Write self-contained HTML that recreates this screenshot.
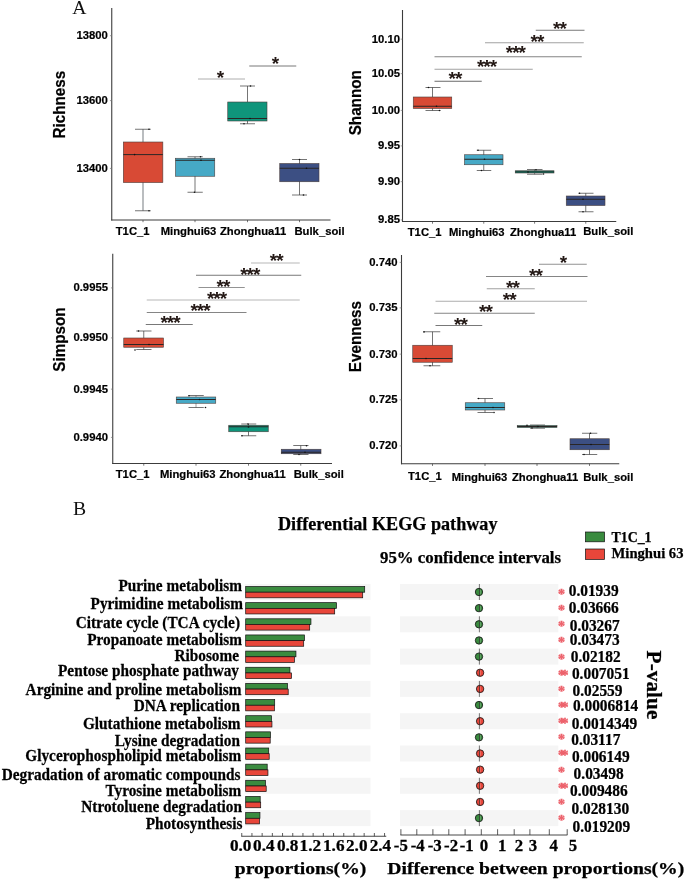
<!DOCTYPE html>
<html lang="en"><head><meta charset="utf-8"><title>Figure</title>
<style>
html,body{margin:0;padding:0;background:#fff;}
body{width:685px;height:879px;overflow:hidden;}
svg{display:block;}
.sb{font-family:"Liberation Sans",sans-serif;font-weight:bold;fill:#000;stroke:#000;stroke-width:0.2px;}
.tb{font-family:"Liberation Serif",serif;font-weight:bold;fill:#000;stroke:#000;stroke-width:0.25px;}
.tr{font-family:"Liberation Serif",serif;fill:#111;}
.st{font-family:"Liberation Sans",sans-serif;font-weight:bold;fill:#231815;}
.rs{font-family:"Liberation Serif",serif;font-weight:bold;fill:#EC5F69;stroke:#EC5F69;stroke-width:0.4px;}
</style></head><body>
<svg width="685" height="879" viewBox="0 0 685 879">
<rect width="685" height="879" fill="#fff"/>
<line x1="111.75" y1="8" x2="111.75" y2="220.5" stroke="#3c3c3c" stroke-width="1.1"/>
<line x1="111.25" y1="220" x2="330.5" y2="220" stroke="#3c3c3c" stroke-width="1.1"/>
<text class="sb" x="107.8" y="39.25" font-size="11.3" text-anchor="end">13800</text>
<line x1="109.95" y1="35.7" x2="111.75" y2="35.7" stroke="#777" stroke-width="0.7"/>
<text class="sb" x="107.8" y="104.15" font-size="11.3" text-anchor="end">13600</text>
<line x1="109.95" y1="100.6" x2="111.75" y2="100.6" stroke="#777" stroke-width="0.7"/>
<text class="sb" x="107.8" y="171.95" font-size="11.3" text-anchor="end">13400</text>
<line x1="109.95" y1="168.4" x2="111.75" y2="168.4" stroke="#777" stroke-width="0.7"/>
<line x1="143" y1="220" x2="143" y2="222.2" stroke="#3c3c3c" stroke-width="0.7"/>
<line x1="195" y1="220" x2="195" y2="222.2" stroke="#3c3c3c" stroke-width="0.7"/>
<line x1="247.5" y1="220" x2="247.5" y2="222.2" stroke="#3c3c3c" stroke-width="0.7"/>
<line x1="299.5" y1="220" x2="299.5" y2="222.2" stroke="#3c3c3c" stroke-width="0.7"/>
<text class="sb" x="115.75" y="235" font-size="11.25">T1C_1</text>
<text class="sb" x="160.75" y="235" font-size="11.25">Minghui63</text>
<text class="sb" x="220" y="235" font-size="11.25">Zhonghua11</text>
<text class="sb" x="294.5" y="235" font-size="11.25">Bulk_soil</text>
<text class="sb" font-size="16.2" text-anchor="middle" transform="translate(65,104.6) rotate(-90) scale(0.94,1)">Richness</text>
<line x1="143" y1="129.25" x2="143" y2="210.75" stroke="#a9adb0" stroke-width="1.6"/>
<line x1="135" y1="129.25" x2="150.75" y2="129.25" stroke="#3a3a3a" stroke-width="0.7"/>
<line x1="135" y1="210.75" x2="150.75" y2="210.75" stroke="#3a3a3a" stroke-width="0.7"/>
<rect x="123.3" y="142" width="39.55" height="40.55" fill="#D84A35" stroke="#4a3f3c" stroke-width="0.6"/>
<line x1="123.3" y1="154.6" x2="162.85" y2="154.6" stroke="#2a2625" stroke-width="1"/>
<circle cx="134.6" cy="154.6" r="0.8" fill="#111"/>
<circle cx="149" cy="129.25" r="0.8" fill="#111"/>
<circle cx="149" cy="210.75" r="0.8" fill="#111"/>
<line x1="195" y1="156.75" x2="195" y2="192.25" stroke="#3a3a3a" stroke-width="0.7"/>
<line x1="187.5" y1="156.75" x2="202.75" y2="156.75" stroke="#3a3a3a" stroke-width="0.7"/>
<line x1="187.5" y1="192.25" x2="202.75" y2="192.25" stroke="#3a3a3a" stroke-width="0.7"/>
<rect x="175.5" y="158.25" width="39.25" height="18" fill="#46A9C6" stroke="#4a3f3c" stroke-width="0.6"/>
<line x1="175.5" y1="160.25" x2="214.75" y2="160.25" stroke="#2a2625" stroke-width="1"/>
<circle cx="200.5" cy="156.75" r="0.8" fill="#111"/>
<circle cx="201" cy="160.3" r="0.8" fill="#111"/>
<circle cx="194.5" cy="192.25" r="0.8" fill="#111"/>
<line x1="247.5" y1="86" x2="247.5" y2="123.75" stroke="#3a3a3a" stroke-width="0.7"/>
<line x1="240" y1="86" x2="255" y2="86" stroke="#3a3a3a" stroke-width="0.7"/>
<line x1="240" y1="123.75" x2="255" y2="123.75" stroke="#3a3a3a" stroke-width="0.7"/>
<rect x="227.75" y="102" width="39.25" height="19" fill="#0F957B" stroke="#4a3f3c" stroke-width="0.6"/>
<line x1="227.75" y1="118.5" x2="267" y2="118.5" stroke="#2a2625" stroke-width="1"/>
<circle cx="250.5" cy="86" r="0.8" fill="#111"/>
<circle cx="250" cy="118.5" r="0.8" fill="#111"/>
<circle cx="244" cy="123.75" r="0.8" fill="#111"/>
<line x1="299.5" y1="159.5" x2="299.5" y2="195" stroke="#3a3a3a" stroke-width="0.7"/>
<line x1="292" y1="159.5" x2="307" y2="159.5" stroke="#3a3a3a" stroke-width="0.7"/>
<line x1="292" y1="195" x2="307" y2="195" stroke="#3a3a3a" stroke-width="0.7"/>
<rect x="279.75" y="163.5" width="39.25" height="18.25" fill="#3C4F83" stroke="#4a3f3c" stroke-width="0.6"/>
<line x1="279.75" y1="168.25" x2="319" y2="168.25" stroke="#2a2625" stroke-width="1"/>
<circle cx="299.5" cy="159.5" r="0.8" fill="#111"/>
<circle cx="306.5" cy="168.3" r="0.8" fill="#111"/>
<circle cx="303.5" cy="195" r="0.8" fill="#111"/>
<line x1="198" y1="79" x2="245" y2="79" stroke="#9a9a9a" stroke-width="0.8"/>
<text class="st" x="220" y="84.3" font-size="19" text-anchor="middle" letter-spacing="-1.0">*</text>
<line x1="249.25" y1="66" x2="296.25" y2="66" stroke="#555" stroke-width="0.8"/>
<text class="st" x="275" y="70.3" font-size="19" text-anchor="middle" letter-spacing="-1.0">*</text>
<line x1="402.5" y1="10" x2="402.5" y2="222" stroke="#3c3c3c" stroke-width="1.1"/>
<line x1="402" y1="221.5" x2="616.25" y2="221.5" stroke="#3c3c3c" stroke-width="1.1"/>
<text class="sb" x="400" y="42.7" font-size="11.3" text-anchor="end">10.10</text>
<line x1="400.7" y1="39.15" x2="402.5" y2="39.15" stroke="#777" stroke-width="0.7"/>
<text class="sb" x="400" y="77.2" font-size="11.3" text-anchor="end">10.05</text>
<line x1="400.7" y1="73.65" x2="402.5" y2="73.65" stroke="#777" stroke-width="0.7"/>
<text class="sb" x="400" y="113.95" font-size="11.3" text-anchor="end">10.00</text>
<line x1="400.7" y1="110.4" x2="402.5" y2="110.4" stroke="#777" stroke-width="0.7"/>
<text class="sb" x="400" y="149.45" font-size="11.3" text-anchor="end">9.95</text>
<line x1="400.7" y1="145.9" x2="402.5" y2="145.9" stroke="#777" stroke-width="0.7"/>
<text class="sb" x="400" y="185.2" font-size="11.3" text-anchor="end">9.90</text>
<line x1="400.7" y1="181.65" x2="402.5" y2="181.65" stroke="#777" stroke-width="0.7"/>
<text class="sb" x="400" y="223.45" font-size="11.3" text-anchor="end">9.85</text>
<line x1="400.7" y1="219.9" x2="402.5" y2="219.9" stroke="#777" stroke-width="0.7"/>
<line x1="432.5" y1="221.5" x2="432.5" y2="223.7" stroke="#3c3c3c" stroke-width="0.7"/>
<line x1="483.75" y1="221.5" x2="483.75" y2="223.7" stroke="#3c3c3c" stroke-width="0.7"/>
<line x1="534.6" y1="221.5" x2="534.6" y2="223.7" stroke="#3c3c3c" stroke-width="0.7"/>
<line x1="585.75" y1="221.5" x2="585.75" y2="223.7" stroke="#3c3c3c" stroke-width="0.7"/>
<text class="sb" x="407.75" y="236.25" font-size="11.25">T1C_1</text>
<text class="sb" x="449" y="236.25" font-size="11.25">Minghui63</text>
<text class="sb" x="510" y="236.25" font-size="11.25">Zhonghua11</text>
<text class="sb" x="583.25" y="235" font-size="11.25">Bulk_soil</text>
<text class="sb" font-size="16.2" text-anchor="middle" transform="translate(361.25,102.75) rotate(-90) scale(0.94,1)">Shannon</text>
<line x1="432.5" y1="87.5" x2="432.5" y2="110.5" stroke="#3a3a3a" stroke-width="0.7"/>
<line x1="425.5" y1="87.5" x2="440.5" y2="87.5" stroke="#3a3a3a" stroke-width="0.7"/>
<line x1="425.5" y1="110.5" x2="440.5" y2="110.5" stroke="#3a3a3a" stroke-width="0.7"/>
<rect x="413.25" y="97" width="38.5" height="11.5" fill="#D84A35" stroke="#4a3f3c" stroke-width="0.6"/>
<line x1="413.25" y1="106.25" x2="451.75" y2="106.25" stroke="#2a2625" stroke-width="1"/>
<circle cx="428.5" cy="87.5" r="0.8" fill="#111"/>
<circle cx="436.5" cy="106.3" r="0.8" fill="#111"/>
<circle cx="439.5" cy="110.5" r="0.8" fill="#111"/>
<line x1="483.75" y1="150.25" x2="483.75" y2="170.5" stroke="#3a3a3a" stroke-width="0.7"/>
<line x1="476.75" y1="150.25" x2="491.25" y2="150.25" stroke="#3a3a3a" stroke-width="0.7"/>
<line x1="476.75" y1="170.5" x2="491.25" y2="170.5" stroke="#3a3a3a" stroke-width="0.7"/>
<rect x="464.5" y="154.75" width="38.5" height="10" fill="#46A9C6" stroke="#4a3f3c" stroke-width="0.6"/>
<line x1="464.5" y1="159.25" x2="503" y2="159.25" stroke="#2a2625" stroke-width="1"/>
<circle cx="478" cy="150.25" r="0.8" fill="#111"/>
<circle cx="484.5" cy="159.3" r="0.8" fill="#111"/>
<circle cx="481.5" cy="170.5" r="0.8" fill="#111"/>
<line x1="534.6" y1="169.5" x2="534.6" y2="174.25" stroke="#3a3a3a" stroke-width="0.6"/>
<line x1="527" y1="169.5" x2="542.5" y2="169.5" stroke="#3a3a3a" stroke-width="0.7"/>
<line x1="527" y1="174.25" x2="542.5" y2="174.25" stroke="#3a3a3a" stroke-width="0.7"/>
<rect x="515.25" y="170.75" width="38.75" height="2.25" fill="#0F957B" stroke="#4a3f3c" stroke-width="0.6"/>
<line x1="515.25" y1="171.9" x2="554" y2="171.9" stroke="#2a2625" stroke-width="1"/>
<circle cx="536" cy="169.8" r="0.8" fill="#111"/>
<circle cx="528" cy="172" r="0.8" fill="#111"/>
<circle cx="543.5" cy="174" r="0.8" fill="#111"/>
<line x1="585.75" y1="193.25" x2="585.75" y2="211.75" stroke="#3a3a3a" stroke-width="0.7"/>
<line x1="578.5" y1="193.25" x2="593.5" y2="193.25" stroke="#3a3a3a" stroke-width="0.7"/>
<line x1="578.5" y1="211.75" x2="593.5" y2="211.75" stroke="#3a3a3a" stroke-width="0.7"/>
<rect x="566.25" y="196" width="38.75" height="9.5" fill="#3C4F83" stroke="#4a3f3c" stroke-width="0.6"/>
<line x1="566.25" y1="199.25" x2="605" y2="199.25" stroke="#2a2625" stroke-width="1"/>
<circle cx="579.5" cy="193.25" r="0.8" fill="#111"/>
<circle cx="583" cy="199.3" r="0.8" fill="#111"/>
<circle cx="583" cy="211.75" r="0.8" fill="#111"/>
<line x1="434.5" y1="81.25" x2="481.75" y2="81.25" stroke="#444" stroke-width="0.8"/>
<text class="st" x="455" y="85.3" font-size="19" text-anchor="middle" letter-spacing="-1.0">**</text>
<line x1="434.5" y1="69.25" x2="532.75" y2="69.25" stroke="#8a8a8a" stroke-width="0.8"/>
<text class="st" x="486.5" y="72.7" font-size="19" text-anchor="middle" letter-spacing="-1.0">***</text>
<line x1="434.5" y1="56.75" x2="581.75" y2="56.75" stroke="#666" stroke-width="0.8"/>
<text class="st" x="515.4" y="59" font-size="19" text-anchor="middle" letter-spacing="-1.0">***</text>
<line x1="485" y1="42.75" x2="583.75" y2="42.75" stroke="#8a8a8a" stroke-width="0.8"/>
<text class="st" x="537" y="48.05" font-size="19" text-anchor="middle" letter-spacing="-1.0">**</text>
<line x1="535.75" y1="30.25" x2="584.5" y2="30.25" stroke="#555" stroke-width="0.8"/>
<text class="st" x="559.5" y="35.05" font-size="19" text-anchor="middle" letter-spacing="-1.0">**</text>
<line x1="112.75" y1="253.75" x2="112.75" y2="464" stroke="#3c3c3c" stroke-width="1.1"/>
<line x1="112.25" y1="463.5" x2="332" y2="463.5" stroke="#3c3c3c" stroke-width="1.1"/>
<text class="sb" x="108" y="291.45" font-size="11.3" text-anchor="end">0.9955</text>
<line x1="110.95" y1="287.9" x2="112.75" y2="287.9" stroke="#777" stroke-width="0.7"/>
<text class="sb" x="108" y="341.45" font-size="11.3" text-anchor="end">0.9950</text>
<line x1="110.95" y1="337.9" x2="112.75" y2="337.9" stroke="#777" stroke-width="0.7"/>
<text class="sb" x="108" y="392.7" font-size="11.3" text-anchor="end">0.9945</text>
<line x1="110.95" y1="389.15" x2="112.75" y2="389.15" stroke="#777" stroke-width="0.7"/>
<text class="sb" x="108" y="440.95" font-size="11.3" text-anchor="end">0.9940</text>
<line x1="110.95" y1="437.4" x2="112.75" y2="437.4" stroke="#777" stroke-width="0.7"/>
<line x1="143.75" y1="463.5" x2="143.75" y2="465.7" stroke="#3c3c3c" stroke-width="0.7"/>
<line x1="196" y1="463.5" x2="196" y2="465.7" stroke="#3c3c3c" stroke-width="0.7"/>
<line x1="248.5" y1="463.5" x2="248.5" y2="465.7" stroke="#3c3c3c" stroke-width="0.7"/>
<line x1="300.75" y1="463.5" x2="300.75" y2="465.7" stroke="#3c3c3c" stroke-width="0.7"/>
<text class="sb" x="115.75" y="478.25" font-size="11.25">T1C_1</text>
<text class="sb" x="160" y="478.25" font-size="11.25">Minghui63</text>
<text class="sb" x="219.5" y="478.25" font-size="11.25">Zhonghua11</text>
<text class="sb" x="293.75" y="478.25" font-size="11.25">Bulk_soil</text>
<text class="sb" font-size="16.2" text-anchor="middle" transform="translate(64.9,339.5) rotate(-90) scale(0.94,1)">Simpson</text>
<line x1="143.75" y1="331" x2="143.75" y2="349.5" stroke="#3a3a3a" stroke-width="0.7"/>
<line x1="136.25" y1="331" x2="151.5" y2="331" stroke="#3a3a3a" stroke-width="0.7"/>
<line x1="136.25" y1="349.5" x2="151.5" y2="349.5" stroke="#3a3a3a" stroke-width="0.7"/>
<rect x="123.75" y="338" width="39.75" height="9.25" fill="#D84A35" stroke="#4a3f3c" stroke-width="0.6"/>
<line x1="123.75" y1="344.5" x2="163.5" y2="344.5" stroke="#2a2625" stroke-width="1"/>
<circle cx="138.5" cy="331" r="0.8" fill="#111"/>
<circle cx="149" cy="344.5" r="0.8" fill="#111"/>
<circle cx="135" cy="350" r="0.8" fill="#111"/>
<line x1="196" y1="395.5" x2="196" y2="407.5" stroke="#8a8a8a" stroke-width="0.8"/>
<line x1="188.5" y1="395.5" x2="203.75" y2="395.5" stroke="#3a3a3a" stroke-width="0.7"/>
<line x1="188.5" y1="407.5" x2="203.75" y2="407.5" stroke="#3a3a3a" stroke-width="0.7"/>
<rect x="176.25" y="397" width="39.5" height="6.25" fill="#46A9C6" stroke="#4a3f3c" stroke-width="0.6"/>
<line x1="176.25" y1="399.5" x2="215.75" y2="399.5" stroke="#2a2625" stroke-width="1"/>
<circle cx="189" cy="395.8" r="0.8" fill="#111"/>
<circle cx="199.5" cy="399.5" r="0.8" fill="#111"/>
<circle cx="205.5" cy="407.5" r="0.8" fill="#111"/>
<line x1="248.5" y1="424" x2="248.5" y2="435.75" stroke="#3a3a3a" stroke-width="0.7"/>
<line x1="241.25" y1="424" x2="256.25" y2="424" stroke="#3a3a3a" stroke-width="0.7"/>
<line x1="241.25" y1="435.75" x2="256.25" y2="435.75" stroke="#3a3a3a" stroke-width="0.7"/>
<rect x="228.75" y="425.25" width="39.5" height="6.5" fill="#0F957B" stroke="#4a3f3c" stroke-width="0.6"/>
<line x1="228.75" y1="426.75" x2="268.25" y2="426.75" stroke="#2a2625" stroke-width="1"/>
<circle cx="248" cy="424" r="0.8" fill="#111"/>
<circle cx="248.5" cy="427" r="0.8" fill="#111"/>
<circle cx="242" cy="435.75" r="0.8" fill="#111"/>
<line x1="300.75" y1="445.5" x2="300.75" y2="454.5" stroke="#3a3a3a" stroke-width="0.7"/>
<line x1="293.25" y1="445.5" x2="308.5" y2="445.5" stroke="#3a3a3a" stroke-width="0.7"/>
<line x1="293.25" y1="454.5" x2="308.5" y2="454.5" stroke="#3a3a3a" stroke-width="0.7"/>
<rect x="281.25" y="449.25" width="39.75" height="4.5" fill="#3C4F83" stroke="#4a3f3c" stroke-width="0.6"/>
<line x1="281.25" y1="452.25" x2="321" y2="452.25" stroke="#2a2625" stroke-width="1"/>
<circle cx="306.5" cy="445.8" r="0.8" fill="#111"/>
<circle cx="305" cy="452.3" r="0.8" fill="#111"/>
<circle cx="299" cy="454.5" r="0.8" fill="#111"/>
<line x1="145.75" y1="324.5" x2="192.75" y2="324.5" stroke="#555" stroke-width="0.8"/>
<text class="st" x="170" y="329.3" font-size="19" text-anchor="middle" letter-spacing="-1.0">***</text>
<line x1="146.75" y1="312.5" x2="246.5" y2="312.5" stroke="#666" stroke-width="0.8"/>
<text class="st" x="200" y="317.3" font-size="19" text-anchor="middle" letter-spacing="-1.0">***</text>
<line x1="146.75" y1="300" x2="299.75" y2="300" stroke="#a5a5a5" stroke-width="0.8"/>
<text class="st" x="216.5" y="305.3" font-size="19" text-anchor="middle" letter-spacing="-1.0">***</text>
<line x1="198.5" y1="287.5" x2="244.75" y2="287.5" stroke="#777" stroke-width="0.8"/>
<text class="st" x="223" y="293.05" font-size="19" text-anchor="middle" letter-spacing="-1.0">**</text>
<line x1="196" y1="275.25" x2="301.25" y2="275.25" stroke="#555" stroke-width="0.8"/>
<text class="st" x="249.75" y="280.55" font-size="19" text-anchor="middle" letter-spacing="-1.0">***</text>
<line x1="251" y1="263" x2="299.75" y2="263" stroke="#a5a5a5" stroke-width="0.8"/>
<text class="st" x="276.25" y="266.8" font-size="19" text-anchor="middle" letter-spacing="-1.0">**</text>
<line x1="401.5" y1="255" x2="401.5" y2="464.25" stroke="#3c3c3c" stroke-width="1.1"/>
<line x1="401" y1="463.75" x2="619.25" y2="463.75" stroke="#3c3c3c" stroke-width="1.1"/>
<text class="sb" x="397.5" y="265.95" font-size="11.3" text-anchor="end">0.740</text>
<line x1="399.7" y1="262.4" x2="401.5" y2="262.4" stroke="#777" stroke-width="0.7"/>
<text class="sb" x="397.5" y="311.45" font-size="11.3" text-anchor="end">0.735</text>
<line x1="399.7" y1="307.9" x2="401.5" y2="307.9" stroke="#777" stroke-width="0.7"/>
<text class="sb" x="397.5" y="357.7" font-size="11.3" text-anchor="end">0.730</text>
<line x1="399.7" y1="354.15" x2="401.5" y2="354.15" stroke="#777" stroke-width="0.7"/>
<text class="sb" x="397.5" y="403.35" font-size="11.3" text-anchor="end">0.725</text>
<line x1="399.7" y1="399.8" x2="401.5" y2="399.8" stroke="#777" stroke-width="0.7"/>
<text class="sb" x="397.5" y="449.45" font-size="11.3" text-anchor="end">0.720</text>
<line x1="399.7" y1="445.9" x2="401.5" y2="445.9" stroke="#777" stroke-width="0.7"/>
<line x1="432.5" y1="463.75" x2="432.5" y2="465.95" stroke="#3c3c3c" stroke-width="0.7"/>
<line x1="485" y1="463.75" x2="485" y2="465.95" stroke="#3c3c3c" stroke-width="0.7"/>
<line x1="537" y1="463.75" x2="537" y2="465.95" stroke="#3c3c3c" stroke-width="0.7"/>
<line x1="589.5" y1="463.75" x2="589.5" y2="465.95" stroke="#3c3c3c" stroke-width="0.7"/>
<text class="sb" x="408" y="480" font-size="11.25">T1C_1</text>
<text class="sb" x="451.75" y="480.75" font-size="11.25">Minghui63</text>
<text class="sb" x="512" y="480.5" font-size="11.25">Zhonghua11</text>
<text class="sb" x="583.25" y="480.5" font-size="11.25">Bulk_soil</text>
<text class="sb" font-size="16.2" text-anchor="middle" transform="translate(360.6,336.6) rotate(-90) scale(0.94,1)">Evenness</text>
<line x1="432.5" y1="331.75" x2="432.5" y2="365.75" stroke="#3a3a3a" stroke-width="0.7"/>
<line x1="423.5" y1="331.75" x2="440.25" y2="331.75" stroke="#3a3a3a" stroke-width="0.7"/>
<line x1="423.5" y1="365.75" x2="440.25" y2="365.75" stroke="#3a3a3a" stroke-width="0.7"/>
<rect x="412.75" y="345.25" width="39.5" height="17" fill="#D84A35" stroke="#4a3f3c" stroke-width="0.6"/>
<line x1="412.75" y1="358.5" x2="452.25" y2="358.5" stroke="#2a2625" stroke-width="1"/>
<circle cx="424" cy="331.9" r="0.8" fill="#111"/>
<circle cx="426" cy="358.5" r="0.8" fill="#111"/>
<circle cx="430" cy="365.75" r="0.8" fill="#111"/>
<line x1="485" y1="398.5" x2="485" y2="412.5" stroke="#3a3a3a" stroke-width="0.7"/>
<line x1="477.5" y1="398.5" x2="493" y2="398.5" stroke="#3a3a3a" stroke-width="0.7"/>
<line x1="477.5" y1="412.5" x2="493" y2="412.5" stroke="#3a3a3a" stroke-width="0.7"/>
<rect x="465.25" y="402.75" width="39.5" height="7.25" fill="#46A9C6" stroke="#4a3f3c" stroke-width="0.6"/>
<line x1="465.25" y1="407.5" x2="504.75" y2="407.5" stroke="#2a2625" stroke-width="1"/>
<circle cx="478.5" cy="398.5" r="0.8" fill="#111"/>
<circle cx="493" cy="407.5" r="0.8" fill="#111"/>
<circle cx="494" cy="412.5" r="0.8" fill="#111"/>
<line x1="537" y1="425" x2="537" y2="428.2" stroke="#3a3a3a" stroke-width="0.5"/>
<line x1="530" y1="425" x2="545" y2="425" stroke="#3a3a3a" stroke-width="0.7"/>
<line x1="530" y1="428.2" x2="545" y2="428.2" stroke="#3a3a3a" stroke-width="0.7"/>
<rect x="517.25" y="425.5" width="39.75" height="2" fill="#0F957B" stroke="#4a3f3c" stroke-width="0.6"/>
<line x1="517.25" y1="426.5" x2="557" y2="426.5" stroke="#2a2625" stroke-width="1"/>
<circle cx="527" cy="425.3" r="0.8" fill="#111"/>
<circle cx="532" cy="428" r="0.8" fill="#111"/>
<circle cx="538" cy="426.5" r="0.8" fill="#111"/>
<line x1="589.5" y1="433.25" x2="589.5" y2="454.5" stroke="#3a3a3a" stroke-width="0.7"/>
<line x1="582" y1="433.25" x2="597.25" y2="433.25" stroke="#3a3a3a" stroke-width="0.7"/>
<line x1="582" y1="454.5" x2="597.25" y2="454.5" stroke="#3a3a3a" stroke-width="0.7"/>
<rect x="570" y="438.75" width="39.25" height="11" fill="#3C4F83" stroke="#4a3f3c" stroke-width="0.6"/>
<line x1="570" y1="444.5" x2="609.25" y2="444.5" stroke="#2a2625" stroke-width="1"/>
<circle cx="590.5" cy="433.25" r="0.8" fill="#111"/>
<circle cx="591" cy="444.5" r="0.8" fill="#111"/>
<circle cx="584" cy="454.5" r="0.8" fill="#111"/>
<line x1="435.5" y1="325.5" x2="482.25" y2="325.5" stroke="#555" stroke-width="0.8"/>
<text class="st" x="460.5" y="330.55" font-size="19" text-anchor="middle" letter-spacing="-1.0">**</text>
<line x1="434.25" y1="313.25" x2="534.75" y2="313.25" stroke="#666" stroke-width="0.8"/>
<text class="st" x="485.5" y="318.05" font-size="19" text-anchor="middle" letter-spacing="-1.0">**</text>
<line x1="435.5" y1="301.25" x2="587" y2="301.25" stroke="#999" stroke-width="0.8"/>
<text class="st" x="509.25" y="306.3" font-size="19" text-anchor="middle" letter-spacing="-1.0">**</text>
<line x1="486.75" y1="288.75" x2="534.75" y2="288.75" stroke="#888" stroke-width="0.8"/>
<text class="st" x="512.5" y="294.3" font-size="19" text-anchor="middle" letter-spacing="-1.0">**</text>
<line x1="486" y1="276.5" x2="587.5" y2="276.5" stroke="#666" stroke-width="0.8"/>
<text class="st" x="535.5" y="281.8" font-size="19" text-anchor="middle" letter-spacing="-1.0">**</text>
<line x1="539" y1="264.25" x2="586.75" y2="264.25" stroke="#777" stroke-width="0.8"/>
<text class="st" x="563" y="269.3" font-size="19" text-anchor="middle" letter-spacing="-1.0">*</text>
<rect x="343" y="470" width="1.2" height="6" fill="#d8d8d8"/>
<text class="tr" x="72.2" y="13.6" font-size="19.7">A</text>
<text class="tr" x="73" y="514.6" font-size="19.7">B</text>
<rect x="245" y="584" width="125.5" height="16" fill="#f5f5f5"/>
<rect x="400" y="584" width="158.3" height="16" fill="#f5f5f5"/>
<rect x="245" y="616.3" width="125.5" height="16" fill="#f5f5f5"/>
<rect x="400" y="616.3" width="158.3" height="16" fill="#f5f5f5"/>
<rect x="245" y="648.6" width="125.5" height="16" fill="#f5f5f5"/>
<rect x="400" y="648.6" width="158.3" height="16" fill="#f5f5f5"/>
<rect x="245" y="680.9" width="125.5" height="16" fill="#f5f5f5"/>
<rect x="400" y="680.9" width="158.3" height="16" fill="#f5f5f5"/>
<rect x="245" y="713.2" width="125.5" height="16" fill="#f5f5f5"/>
<rect x="400" y="713.2" width="158.3" height="16" fill="#f5f5f5"/>
<rect x="245" y="745.5" width="125.5" height="16" fill="#f5f5f5"/>
<rect x="400" y="745.5" width="158.3" height="16" fill="#f5f5f5"/>
<rect x="245" y="777.8" width="125.5" height="16" fill="#f5f5f5"/>
<rect x="400" y="777.8" width="158.3" height="16" fill="#f5f5f5"/>
<rect x="245" y="810.1" width="125.5" height="16" fill="#f5f5f5"/>
<rect x="400" y="810.1" width="158.3" height="16" fill="#f5f5f5"/>
<rect x="245.7" y="586.5" width="119" height="5.7" fill="#3A8B3F" stroke="#111" stroke-width="0.7"/>
<rect x="245.7" y="592.2" width="117" height="5.6" fill="#E8463A" stroke="#111" stroke-width="0.7"/>
<rect x="245.7" y="602.65" width="90.75" height="5.7" fill="#3A8B3F" stroke="#111" stroke-width="0.7"/>
<rect x="245.7" y="608.35" width="89" height="5.6" fill="#E8463A" stroke="#111" stroke-width="0.7"/>
<rect x="245.7" y="618.8" width="65.25" height="5.7" fill="#3A8B3F" stroke="#111" stroke-width="0.7"/>
<rect x="245.7" y="624.5" width="64" height="5.6" fill="#E8463A" stroke="#111" stroke-width="0.7"/>
<rect x="245.7" y="634.95" width="58.75" height="5.7" fill="#3A8B3F" stroke="#111" stroke-width="0.7"/>
<rect x="245.7" y="640.65" width="58" height="5.6" fill="#E8463A" stroke="#111" stroke-width="0.7"/>
<rect x="245.7" y="651.1" width="50.25" height="5.7" fill="#3A8B3F" stroke="#111" stroke-width="0.7"/>
<rect x="245.7" y="656.8" width="48.75" height="5.6" fill="#E8463A" stroke="#111" stroke-width="0.7"/>
<rect x="245.7" y="667.25" width="44.25" height="5.7" fill="#3A8B3F" stroke="#111" stroke-width="0.7"/>
<rect x="245.7" y="672.95" width="45.75" height="5.6" fill="#E8463A" stroke="#111" stroke-width="0.7"/>
<rect x="245.7" y="683.4" width="41.75" height="5.7" fill="#3A8B3F" stroke="#111" stroke-width="0.7"/>
<rect x="245.7" y="689.1" width="42.5" height="5.6" fill="#E8463A" stroke="#111" stroke-width="0.7"/>
<rect x="245.7" y="699.55" width="29" height="5.7" fill="#3A8B3F" stroke="#111" stroke-width="0.7"/>
<rect x="245.7" y="705.25" width="28.75" height="5.6" fill="#E8463A" stroke="#111" stroke-width="0.7"/>
<rect x="245.7" y="715.7" width="25.75" height="5.7" fill="#3A8B3F" stroke="#111" stroke-width="0.7"/>
<rect x="245.7" y="721.4" width="26.25" height="5.6" fill="#E8463A" stroke="#111" stroke-width="0.7"/>
<rect x="245.7" y="731.85" width="24.75" height="5.7" fill="#3A8B3F" stroke="#111" stroke-width="0.7"/>
<rect x="245.7" y="737.55" width="24.5" height="5.6" fill="#E8463A" stroke="#111" stroke-width="0.7"/>
<rect x="245.7" y="748" width="23" height="5.7" fill="#3A8B3F" stroke="#111" stroke-width="0.7"/>
<rect x="245.7" y="753.7" width="23.5" height="5.6" fill="#E8463A" stroke="#111" stroke-width="0.7"/>
<rect x="245.7" y="764.15" width="21.5" height="5.7" fill="#3A8B3F" stroke="#111" stroke-width="0.7"/>
<rect x="245.7" y="769.85" width="22.25" height="5.6" fill="#E8463A" stroke="#111" stroke-width="0.7"/>
<rect x="245.7" y="780.3" width="19.75" height="5.7" fill="#3A8B3F" stroke="#111" stroke-width="0.7"/>
<rect x="245.7" y="786" width="20.5" height="5.6" fill="#E8463A" stroke="#111" stroke-width="0.7"/>
<rect x="245.7" y="796.45" width="14.5" height="5.7" fill="#3A8B3F" stroke="#111" stroke-width="0.7"/>
<rect x="245.7" y="802.15" width="15" height="5.6" fill="#E8463A" stroke="#111" stroke-width="0.7"/>
<rect x="245.7" y="812.6" width="14.25" height="5.7" fill="#3A8B3F" stroke="#111" stroke-width="0.7"/>
<rect x="245.7" y="818.3" width="13.75" height="5.6" fill="#E8463A" stroke="#111" stroke-width="0.7"/>
<text class="tb" transform="translate(242,590.75) scale(0.9387,1)" font-size="16.3" text-anchor="end">Purine metabolism</text>
<text class="tb" transform="translate(243,609.25) scale(0.9387,1)" font-size="16.3" text-anchor="end">Pyrimidine metabolism</text>
<text class="tb" transform="translate(240,627.5) scale(0.9387,1)" font-size="16.3" text-anchor="end">Citrate cycle (TCA cycle)</text>
<text class="tb" transform="translate(242,645.25) scale(0.9387,1)" font-size="16.3" text-anchor="end">Propanoate metabolism</text>
<text class="tb" transform="translate(239,661.25) scale(0.9387,1)" font-size="16.3" text-anchor="end">Ribosome</text>
<text class="tb" transform="translate(239,676) scale(0.9387,1)" font-size="16.3" text-anchor="end">Pentose phosphate pathway</text>
<text class="tb" transform="translate(241.5,695.25) scale(0.9387,1)" font-size="16.3" text-anchor="end">Arginine and proline metabolism</text>
<text class="tb" transform="translate(240,711.25) scale(0.9387,1)" font-size="16.3" text-anchor="end">DNA replication</text>
<text class="tb" transform="translate(240.5,728.5) scale(0.9387,1)" font-size="16.3" text-anchor="end">Glutathione metabolism</text>
<text class="tb" transform="translate(240,745.75) scale(0.9387,1)" font-size="16.3" text-anchor="end">Lysine degradation</text>
<text class="tb" transform="translate(241.25,761.25) scale(0.9387,1)" font-size="16.3" text-anchor="end">Glycerophospholipid metabolism</text>
<text class="tb" transform="translate(240.5,779.5) scale(0.9387,1)" font-size="16.3" text-anchor="end">Degradation of aromatic compounds</text>
<text class="tb" transform="translate(241.25,796) scale(0.9387,1)" font-size="16.3" text-anchor="end">Tyrosine metabolism</text>
<text class="tb" transform="translate(242,812) scale(0.9387,1)" font-size="16.3" text-anchor="end">Ntrotoluene degradation</text>
<text class="tb" transform="translate(242.5,828.5) scale(0.9387,1)" font-size="16.3" text-anchor="end">Photosynthesis</text>
<line x1="241.25" y1="836.25" x2="386.25" y2="836.25" stroke="#333" stroke-width="0.9"/>
<line x1="241.75" y1="833" x2="241.75" y2="836.25" stroke="#333" stroke-width="0.8"/>
<line x1="251.95" y1="833" x2="251.95" y2="836.25" stroke="#333" stroke-width="0.8"/>
<line x1="262.15" y1="833" x2="262.15" y2="836.25" stroke="#333" stroke-width="0.8"/>
<line x1="272.35" y1="833" x2="272.35" y2="836.25" stroke="#333" stroke-width="0.8"/>
<line x1="282.55" y1="833" x2="282.55" y2="836.25" stroke="#333" stroke-width="0.8"/>
<line x1="292.75" y1="833" x2="292.75" y2="836.25" stroke="#333" stroke-width="0.8"/>
<line x1="302.95" y1="833" x2="302.95" y2="836.25" stroke="#333" stroke-width="0.8"/>
<line x1="313.15" y1="833" x2="313.15" y2="836.25" stroke="#333" stroke-width="0.8"/>
<line x1="323.35" y1="833" x2="323.35" y2="836.25" stroke="#333" stroke-width="0.8"/>
<line x1="333.55" y1="833" x2="333.55" y2="836.25" stroke="#333" stroke-width="0.8"/>
<line x1="343.75" y1="833" x2="343.75" y2="836.25" stroke="#333" stroke-width="0.8"/>
<line x1="353.95" y1="833" x2="353.95" y2="836.25" stroke="#333" stroke-width="0.8"/>
<line x1="364.15" y1="833" x2="364.15" y2="836.25" stroke="#333" stroke-width="0.8"/>
<line x1="374.35" y1="833" x2="374.35" y2="836.25" stroke="#333" stroke-width="0.8"/>
<line x1="384.55" y1="833" x2="384.55" y2="836.25" stroke="#333" stroke-width="0.8"/>
<text class="tb" transform="translate(229.9,850.75) scale(1.0750,1)" font-size="16">0.0</text>
<text class="tb" transform="translate(253.1,850.75) scale(1.0750,1)" font-size="16">0.4</text>
<text class="tb" transform="translate(276.9,850.75) scale(1.0750,1)" font-size="16">0.8</text>
<text class="tb" transform="translate(299.6,850.75) scale(1.0750,1)" font-size="16">1.2</text>
<text class="tb" transform="translate(323,850.75) scale(1.0750,1)" font-size="16">1.6</text>
<text class="tb" transform="translate(346,850.75) scale(1.0750,1)" font-size="16">2.0</text>
<text class="tb" transform="translate(369.7,850.75) scale(1.0750,1)" font-size="16">2.4</text>
<text class="tb" x="234.8" y="873.8" font-size="17" stroke-width="0.45" textLength="131.5" lengthAdjust="spacingAndGlyphs">proportions(%)</text>
<line x1="479.4" y1="584" x2="479.4" y2="600" stroke="#555" stroke-width="0.8"/>
<line x1="479.4" y1="616.3" x2="479.4" y2="632.3" stroke="#555" stroke-width="0.8"/>
<line x1="479.4" y1="648.6" x2="479.4" y2="664.6" stroke="#555" stroke-width="0.8"/>
<line x1="479.4" y1="680.9" x2="479.4" y2="696.9" stroke="#555" stroke-width="0.8"/>
<line x1="479.4" y1="713.2" x2="479.4" y2="729.2" stroke="#555" stroke-width="0.8"/>
<line x1="479.4" y1="745.5" x2="479.4" y2="761.5" stroke="#555" stroke-width="0.8"/>
<line x1="479.4" y1="777.8" x2="479.4" y2="793.8" stroke="#555" stroke-width="0.8"/>
<line x1="479.4" y1="810.1" x2="479.4" y2="826.1" stroke="#555" stroke-width="0.8"/>
<circle cx="479.0" cy="592" r="3.7" fill="#3A8B3F" stroke="#111" stroke-width="0.8"/>
<line x1="479.5" y1="588.8" x2="479.5" y2="595.2" stroke="#333" stroke-width="0.7"/>
<line x1="480.4" y1="589.7" x2="480.4" y2="594.3" stroke="#fff" stroke-width="0.5" opacity="0.45"/>
<circle cx="479.0" cy="608.15" r="3.7" fill="#3A8B3F" stroke="#111" stroke-width="0.8"/>
<line x1="479.5" y1="604.95" x2="479.5" y2="611.35" stroke="#333" stroke-width="0.7"/>
<line x1="480.4" y1="605.85" x2="480.4" y2="610.45" stroke="#fff" stroke-width="0.5" opacity="0.45"/>
<circle cx="479.0" cy="624.3" r="3.7" fill="#3A8B3F" stroke="#111" stroke-width="0.8"/>
<line x1="479.5" y1="621.1" x2="479.5" y2="627.5" stroke="#333" stroke-width="0.7"/>
<line x1="480.4" y1="622" x2="480.4" y2="626.6" stroke="#fff" stroke-width="0.5" opacity="0.45"/>
<circle cx="479.0" cy="640.45" r="3.7" fill="#3A8B3F" stroke="#111" stroke-width="0.8"/>
<line x1="479.5" y1="637.25" x2="479.5" y2="643.65" stroke="#333" stroke-width="0.7"/>
<line x1="480.4" y1="638.15" x2="480.4" y2="642.75" stroke="#fff" stroke-width="0.5" opacity="0.45"/>
<circle cx="479.0" cy="656.6" r="3.7" fill="#3A8B3F" stroke="#111" stroke-width="0.8"/>
<line x1="479.5" y1="653.4" x2="479.5" y2="659.8" stroke="#333" stroke-width="0.7"/>
<line x1="480.4" y1="654.3" x2="480.4" y2="658.9" stroke="#fff" stroke-width="0.5" opacity="0.45"/>
<circle cx="480.1" cy="672.75" r="3.7" fill="#E8463A" stroke="#111" stroke-width="0.8"/>
<line x1="479.5" y1="669.55" x2="479.5" y2="675.95" stroke="#333" stroke-width="0.7"/>
<line x1="480.4" y1="670.45" x2="480.4" y2="675.05" stroke="#fff" stroke-width="0.5" opacity="0.45"/>
<circle cx="480.1" cy="688.9" r="3.7" fill="#E8463A" stroke="#111" stroke-width="0.8"/>
<line x1="479.5" y1="685.7" x2="479.5" y2="692.1" stroke="#333" stroke-width="0.7"/>
<line x1="480.4" y1="686.6" x2="480.4" y2="691.2" stroke="#fff" stroke-width="0.5" opacity="0.45"/>
<circle cx="479.0" cy="705.05" r="3.7" fill="#3A8B3F" stroke="#111" stroke-width="0.8"/>
<line x1="479.5" y1="701.85" x2="479.5" y2="708.25" stroke="#333" stroke-width="0.7"/>
<line x1="480.4" y1="702.75" x2="480.4" y2="707.35" stroke="#fff" stroke-width="0.5" opacity="0.45"/>
<circle cx="480.1" cy="721.2" r="3.7" fill="#E8463A" stroke="#111" stroke-width="0.8"/>
<line x1="479.5" y1="718" x2="479.5" y2="724.4" stroke="#333" stroke-width="0.7"/>
<line x1="480.4" y1="718.9" x2="480.4" y2="723.5" stroke="#fff" stroke-width="0.5" opacity="0.45"/>
<circle cx="479.0" cy="737.35" r="3.7" fill="#3A8B3F" stroke="#111" stroke-width="0.8"/>
<line x1="479.5" y1="734.15" x2="479.5" y2="740.55" stroke="#333" stroke-width="0.7"/>
<line x1="480.4" y1="735.05" x2="480.4" y2="739.65" stroke="#fff" stroke-width="0.5" opacity="0.45"/>
<circle cx="480.1" cy="753.5" r="3.7" fill="#E8463A" stroke="#111" stroke-width="0.8"/>
<line x1="479.5" y1="750.3" x2="479.5" y2="756.7" stroke="#333" stroke-width="0.7"/>
<line x1="480.4" y1="751.2" x2="480.4" y2="755.8" stroke="#fff" stroke-width="0.5" opacity="0.45"/>
<circle cx="480.1" cy="769.65" r="3.7" fill="#E8463A" stroke="#111" stroke-width="0.8"/>
<line x1="479.5" y1="766.45" x2="479.5" y2="772.85" stroke="#333" stroke-width="0.7"/>
<line x1="480.4" y1="767.35" x2="480.4" y2="771.95" stroke="#fff" stroke-width="0.5" opacity="0.45"/>
<circle cx="480.1" cy="785.8" r="3.7" fill="#E8463A" stroke="#111" stroke-width="0.8"/>
<line x1="479.5" y1="782.6" x2="479.5" y2="789" stroke="#333" stroke-width="0.7"/>
<line x1="480.4" y1="783.5" x2="480.4" y2="788.1" stroke="#fff" stroke-width="0.5" opacity="0.45"/>
<circle cx="480.1" cy="801.95" r="3.7" fill="#E8463A" stroke="#111" stroke-width="0.8"/>
<line x1="479.5" y1="798.75" x2="479.5" y2="805.15" stroke="#333" stroke-width="0.7"/>
<line x1="480.4" y1="799.65" x2="480.4" y2="804.25" stroke="#fff" stroke-width="0.5" opacity="0.45"/>
<circle cx="479.0" cy="818.1" r="3.7" fill="#3A8B3F" stroke="#111" stroke-width="0.8"/>
<line x1="479.5" y1="814.9" x2="479.5" y2="821.3" stroke="#333" stroke-width="0.7"/>
<line x1="480.4" y1="815.8" x2="480.4" y2="820.4" stroke="#fff" stroke-width="0.5" opacity="0.45"/>
<line x1="400.4" y1="835" x2="567.4" y2="835" stroke="#333" stroke-width="0.9"/>
<line x1="400.9" y1="829.2" x2="400.9" y2="835" stroke="#333" stroke-width="0.8"/>
<line x1="416.8" y1="829.2" x2="416.8" y2="835" stroke="#333" stroke-width="0.8"/>
<line x1="432.9" y1="829.2" x2="432.9" y2="835" stroke="#333" stroke-width="0.8"/>
<line x1="448.8" y1="829.2" x2="448.8" y2="835" stroke="#333" stroke-width="0.8"/>
<line x1="465.1" y1="829.2" x2="465.1" y2="835" stroke="#333" stroke-width="0.8"/>
<line x1="481.3" y1="829.2" x2="481.3" y2="835" stroke="#333" stroke-width="0.8"/>
<line x1="497.6" y1="829.2" x2="497.6" y2="835" stroke="#333" stroke-width="0.8"/>
<line x1="514.2" y1="829.2" x2="514.2" y2="835" stroke="#333" stroke-width="0.8"/>
<line x1="529.9" y1="829.2" x2="529.9" y2="835" stroke="#333" stroke-width="0.8"/>
<line x1="549.3" y1="829.2" x2="549.3" y2="835" stroke="#333" stroke-width="0.8"/>
<line x1="567.2" y1="829.2" x2="567.2" y2="835" stroke="#333" stroke-width="0.8"/>
<text class="tb" transform="translate(393.8,851) scale(1.0500,1)" font-size="16">-5</text>
<text class="tb" transform="translate(410.7,851) scale(1.0500,1)" font-size="16">-4</text>
<text class="tb" transform="translate(427.7,851) scale(1.0500,1)" font-size="16">-3</text>
<text class="tb" transform="translate(444.1,851) scale(1.0500,1)" font-size="16">-2</text>
<text class="tb" transform="translate(459.7,851) scale(1.0500,1)" font-size="16">-1</text>
<text class="tb" transform="translate(484,851) scale(1.0500,1)" font-size="16" text-anchor="middle">0</text>
<text class="tb" transform="translate(502.2,851) scale(1.0500,1)" font-size="16" text-anchor="middle">1</text>
<text class="tb" transform="translate(518.9,851) scale(1.0500,1)" font-size="16" text-anchor="middle">2</text>
<text class="tb" transform="translate(533,851) scale(1.0500,1)" font-size="16" text-anchor="middle">3</text>
<text class="tb" transform="translate(553.7,851) scale(1.0500,1)" font-size="16" text-anchor="middle">4</text>
<text class="tb" transform="translate(573,851) scale(1.0500,1)" font-size="16" text-anchor="middle">5</text>
<text class="tb" x="387.3" y="873.8" font-size="17" stroke-width="0.45" textLength="297" lengthAdjust="spacingAndGlyphs">Difference between proportions(%)</text>
<text class="rs" x="561.4" y="598.9" font-size="14" text-anchor="middle">*</text>
<text class="rs" x="561.4" y="615.05" font-size="14" text-anchor="middle">*</text>
<text class="rs" x="561.4" y="631.2" font-size="14" text-anchor="middle">*</text>
<text class="rs" x="561.4" y="647.35" font-size="14" text-anchor="middle">*</text>
<text class="rs" x="561.4" y="663.5" font-size="14" text-anchor="middle">*</text>
<text class="rs" x="561.4" y="679.65" font-size="14" text-anchor="middle" letter-spacing="-3.7">**</text>
<text class="rs" x="561.4" y="695.8" font-size="14" text-anchor="middle">*</text>
<text class="rs" x="561.4" y="711.95" font-size="14" text-anchor="middle" letter-spacing="-3.7">**</text>
<text class="rs" x="561.4" y="728.1" font-size="14" text-anchor="middle" letter-spacing="-3.7">**</text>
<text class="rs" x="561.4" y="744.25" font-size="14" text-anchor="middle">*</text>
<text class="rs" x="561.4" y="760.4" font-size="14" text-anchor="middle" letter-spacing="-3.7">**</text>
<text class="rs" x="561.4" y="776.55" font-size="14" text-anchor="middle">*</text>
<text class="rs" x="561.4" y="792.7" font-size="14" text-anchor="middle" letter-spacing="-3.7">**</text>
<text class="rs" x="561.4" y="808.85" font-size="14" text-anchor="middle">*</text>
<text class="rs" x="561.4" y="825" font-size="14" text-anchor="middle">*</text>
<text class="tb" transform="translate(568.7,595.5) scale(0.9059,1)" font-size="17">0.01939</text>
<text class="tb" transform="translate(568.7,612.5) scale(0.9059,1)" font-size="17">0.03666</text>
<text class="tb" transform="translate(569.7,630.5) scale(0.9059,1)" font-size="17">0.03267</text>
<text class="tb" transform="translate(569.7,644.9) scale(0.9059,1)" font-size="17">0.03473</text>
<text class="tb" transform="translate(570.7,661.8) scale(0.9059,1)" font-size="17">0.02182</text>
<text class="tb" transform="translate(571.9,679.4) scale(0.9059,1)" font-size="17">0.007051</text>
<text class="tb" transform="translate(572.5,696) scale(0.9059,1)" font-size="17">0.02559</text>
<text class="tb" transform="translate(572.9,711) scale(0.9059,1)" font-size="17">0.0006814</text>
<text class="tb" transform="translate(571.7,728.6) scale(0.9059,1)" font-size="17">0.0014349</text>
<text class="tb" transform="translate(571.2,745.2) scale(0.9059,1)" font-size="17">0.03117</text>
<text class="tb" transform="translate(571.9,761.5) scale(0.9059,1)" font-size="17">0.006149</text>
<text class="tb" transform="translate(573.6,779.3) scale(0.9059,1)" font-size="17">0.03498</text>
<text class="tb" transform="translate(570,796.4) scale(0.9059,1)" font-size="17">0.009486</text>
<text class="tb" transform="translate(571.45,813.8) scale(0.9059,1)" font-size="17">0.028130</text>
<text class="tb" transform="translate(572.5,832.4) scale(0.9059,1)" font-size="17">0.019209</text>
<text class="tb" x="278" y="529.5" font-size="18.7" textLength="219.5" lengthAdjust="spacingAndGlyphs">Differential KEGG pathway</text>
<text class="tb" x="380" y="563" font-size="16" textLength="181" lengthAdjust="spacingAndGlyphs">95% confidence intervals</text>
<rect x="585.5" y="532" width="19" height="9.8" fill="#3A8B3F" stroke="#111" stroke-width="0.7"/>
<rect x="585.5" y="549" width="19" height="10.4" fill="#E8463A" stroke="#111" stroke-width="0.7"/>
<text class="tb" x="611.5" y="541.75" font-size="14" textLength="40" lengthAdjust="spacingAndGlyphs">T1C_1</text>
<text class="tb" x="611.5" y="558" font-size="14.5" textLength="72" lengthAdjust="spacingAndGlyphs">Minghui 63</text>
<text class="tb" font-size="21.5" textLength="68.8" lengthAdjust="spacingAndGlyphs" transform="translate(646.5,650.6) rotate(90)">P-value</text>
</svg></body></html>
